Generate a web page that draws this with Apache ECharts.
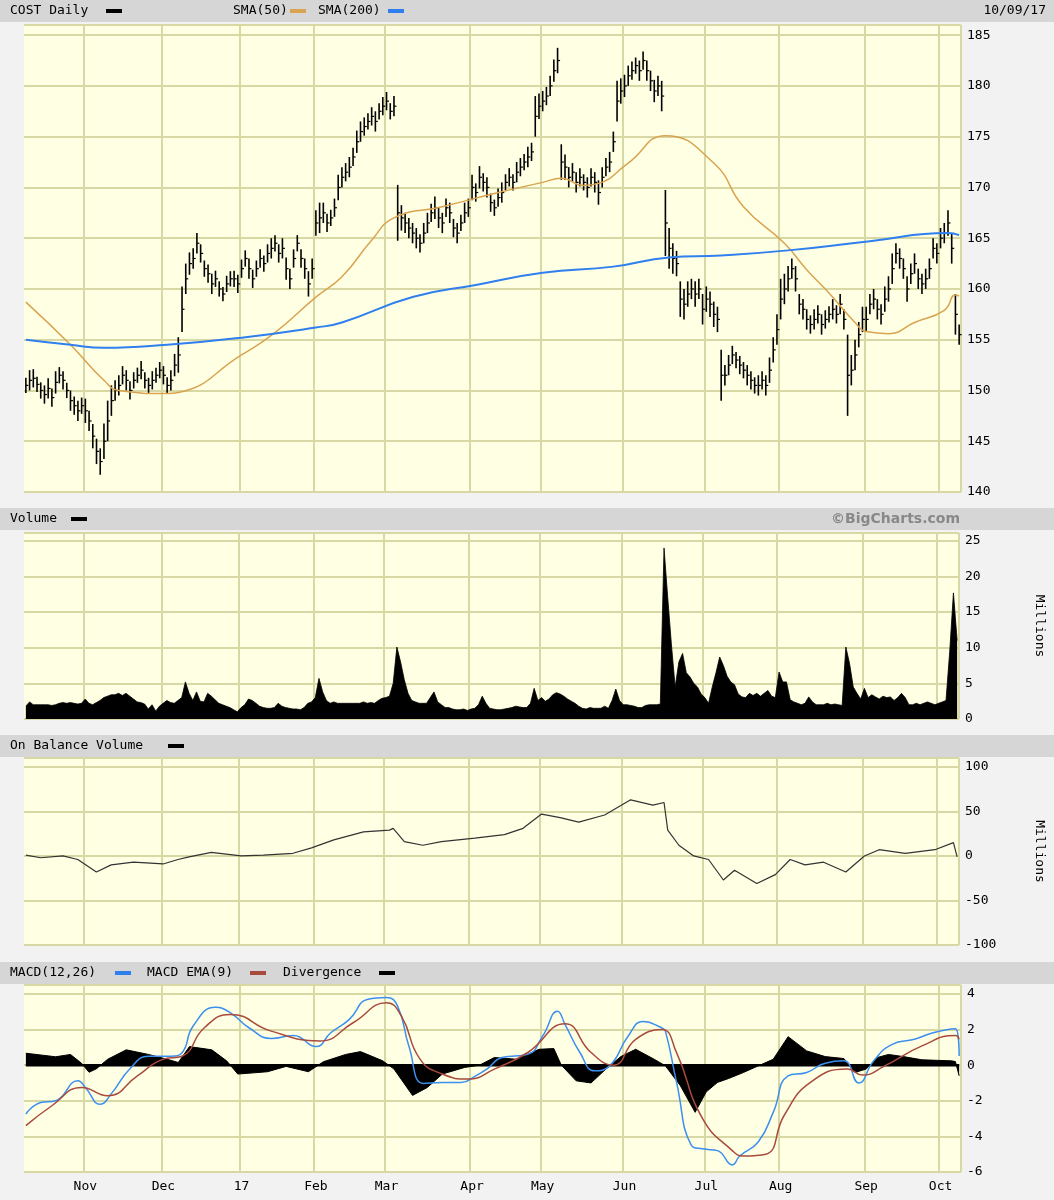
<!DOCTYPE html>
<html>
<head>
<meta charset="utf-8">
<title>COST Daily</title>
<script src="https://cdn.jsdelivr.net/npm/echarts@6/dist/echarts.min.js"></script>
</head>
<body style="margin:0;padding:0;background:#f2f2f2;">
<div id="main" style="width:1054px;height:1200px;"></div>
<script type="text/javascript">
// trading days Oct 10 2016 - Oct 9 2017
var holidays = ['2016-11-24','2016-12-26','2017-01-02','2017-01-16','2017-02-20','2017-04-14','2017-05-29','2017-07-04','2017-09-04'];
var monthNames = ['17','Feb','Mar','Apr','May','Jun','Jul','Aug','Sep','Oct','Nov','Dec'];
var days = [];
for (var t = Date.UTC(2016, 9, 10); t <= Date.UTC(2017, 9, 9); t += 86400000) {
    var d = new Date(t);
    var s = d.toISOString().slice(0, 10);
    if (d.getUTCDay() == 0 || d.getUTCDay() == 6 || holidays.indexOf(s) >= 0) continue;
    days.push(s);
}

// closes, by month
var closes = [].concat(
    [150.5,151,151.2,150.6,150,149.6,150.2,149.3,150.8,151.5,151,150,149,148.5,148,148.5],
    [148,147,145.5,144,143,145,147,149,150,150.5,151.5,151,150,151,151.5,152,151,150.5,151,151.5,152],
    [151.5,150.5,151,152.5,153.5,158,161,162.5,163,164.5,163.5,162,161.5,160.5,161,160,159.5,160.5,161,161,160.5],
    [162,163,162,161,162,163,162.5,163.5,164,164.5,163.5,164,162,161,163,164.5,163,162,160.5,162],
    [166.5,167,167.5,166.5,167,168,170,171,171.5,172,173,174.5,175.5,176,176.5,177,176.5,177.5,178],
    [178.5,177.5,178,167.5,167,166.5,166,165.5,165,164.5,165.5,166.5,167.5,168,167,166.5,168,167.5,166,165.5,166.5,167.5,168],
    [170,169.5,171,170.5,170,168.5,168,169,169.5,170.5,171,170.5,171.5,172,172.5,173,173.5,177,178],
    [178.5,179,180,181.5,182.5,172.5,172,171,171.5,170.5,171,170.5,170,171,170.5,169.5,171,172,172.5,174.5,178.5,179.5],
    [180,181,181.5,182,181.5,182.5,181.5,180.5,179.5,180,179,166.5,164,163,162.5,159,158.5,159.5,160,159.5,160,158],
    [159,158.5,157.5,157,151.5,151.5,152.5,153.5,153,152.5,152,151.5,151,150.5,150.5,151,150.5,152,154,156],
    [159,160,161,162,161,158.5,158,157,156.5,157,157.5,156.5,157,157.5,158,157.5,158.5,157,151.5,152,153.5,155.5,157],
    [157,158.5,159,158,157.5,159,160,162,163.5,163,162,160,161.5,162.5,161,160.5,161,162,164,163.5],
    [165,165.5,166.5,164,157.5,155.5]
);
// daily high-low range
var ranges = [].concat(
    [1.5,2,1.8,1.5,1.6,1.8,2,1.8,2.2,1.6,1.8,1.5,2,1.8,2,1.6],
    [2.4,2,2.4,2.5,2.6,3.5,4,3,2,2,1.8,2,1.8,1.6,1.5,1.8,1.6,1.5,1.8,1.5,1.6],
    [1.8,1.6,2,2.2,3.5,4.5,3,2.2,2,2,1.8,1.6,1.8,2,1.6,1.5,1.4,1.6,1.5,1.6,1.8],
    [1.8,1.6,2,1.8,1.6,1.8,1.6,1.8,2,1.6,1.8,2,2.2,2,1.8,1.6,1.8,2,2.5,2],
    [2.5,3,2,1.8,1.6,1.8,2.5,2,1.8,2,1.8,2.2,2,1.8,1.6,1.8,2,1.6,1.8],
    [1.8,1.6,2,5.5,2.5,2,2,2,2,1.8,2,2,1.8,2.2,2,2,1.8,2,1.8,2,1.6,2,1.8],
    [2.5,1.8,2.2,1.8,2,1.8,1.6,1.8,2,1.6,1.8,1.6,2,1.8,1.6,2,1.8,4,2.5],
    [2,1.8,2,2.2,2.5,3.5,2.5,2,1.8,2,1.8,1.6,2,1.8,2,2.4,2,1.8,2,2,4,2.5],
    [2.2,2,1.8,1.6,2,1.8,2,2,2.2,2,3,6.5,4,3,2.5,3.5,3,2.5,2,2.5,2,3],
    [2.5,2.5,2.5,2.5,5,2,2,1.8,1.6,1.8,1.6,2,1.8,1.6,2,1.8,2,2.5,2.5,3],
    [4,3,2.5,2,2.5,2,2,2,1.8,2,1.8,2,1.8,1.6,2,1.8,2,2,8,3,3,2.5,2.5],
    [2.5,2,2,2,2,2.5,2.5,3,2,2,2,2.5,2,2,2,2,2,2,2,2],
    [2,2,2.5,3,4,2]
);
var sma50 = [[0,158.7],[12,154.5],[21,151],[25,150],[38,149.7],[41,149.8],[58,153.5],[67,155.7],[78,159.2],[85,161.2],[93,164.8],[99,167],[112,168.1],[126,169.4],[139,170.5],[144,170.9],[150,170.2],[154,170.4],[162,172.4],[172,175.1],[185,172.4],[193,168.1],[204,164.5],[210,161.9],[216,159.6],[223,156.7],[226,155.8],[232,155.6],[239,156.7],[247,157.9],[250,159.4],[251,159.3]];
var sma200 = [[0,155],[12,154.5],[21,154.2],[38,154.5],[58,155.2],[78,156.2],[85,156.7],[104,159.2],[121,160.4],[139,161.6],[158,162.2],[173,163.1],[187,163.3],[205,163.8],[227,164.7],[248,165.5],[251,165.3]];
// volume, millions
var volume = [].concat(
    [1.8,2.4,2.0,2.0,2.0,2.0,2.0,1.9,2.0,2.2,2.3,2.2,2.3,2.2,2.1,2.2],
    [2.8,2.2,2.0,2.3,2.6,3.0,3.2,3.4,3.4,3.6,3.3,3.6,3.2,2.8,2.4,2.3,2.1,1.4,2.0,1.1,1.8],
    [2.2,2.6,2.3,2.2,2.6,3.0,5.2,3.6,2.6,3.8,2.5,2.4,3.6,3.2,2.7,2.2,2.0,1.8,1.6,1.3,1.0],
    [1.6,2.0,2.8,2.6,2.2,1.8,1.6,1.5,1.5,1.6,2.2,1.8,1.6,1.5,1.4,1.4,1.3,1.6,2.2,2.4],
    [3.0,5.7,3.8,2.6,2.2,2.4,2.2,2.2,2.2,2.2,2.2,2.2,2.2,2.4,2.2,2.3,2.2,2.6,2.9],
    [3.0,3.2,5.0,10.1,8.0,5.5,3.6,2.6,2.4,2.2,2.2,2.2,3.0,3.8,2.4,2.0,1.6,1.6,1.4,1.3,1.3,1.4,1.2],
    [1.4,1.5,2.0,3.2,2.2,1.5,1.4,1.3,1.3,1.4,1.5,1.6,1.8,1.7,1.6,1.6,2.2,4.3,2.6],
    [3.0,2.5,2.8,3.4,3.7,3.5,3.2,2.8,2.5,2.2,1.8,1.5,1.4,1.6,1.5,1.5,1.5,1.8,1.5,2.6,4.2,2.6],
    [2.0,2.0,1.9,1.8,1.6,1.6,1.9,2.0,2.0,2.0,2.1,24,17,10.4,4.5,8.0,9.2,6.5,5.9,5.0,4.5,3.5],
    [3.0,2.2,4.5,6.5,8.7,7.5,6.0,5.2,4.8,3.5,3.1,3.0,3.6,3.3,3.6,3.2,3.6,4.0,3.2,3.0],
    [6.6,5.2,5.2,2.7,2.4,2.2,2.0,2.2,3.1,2.4,2.0,2.0,2.0,2.2,2.0,2.1,2.0,1.9,10.1,7.8,4.5,3.6,2.8],
    [4.3,3.0,3.4,3.1,2.8,3.2,3.0,3.1,2.6,3.0,3.6,3.0,2.0,2.0,2.2,2.0,2.2,2.4,2.2,2.0],
    [2.2,2.4,2.6,9.5,17.7,11]
);
var obv = [[0,1],[4,-2],[10,0],[14,-4],[19,-18],[23,-10],[29,-7],[37,-9],[41,-4],[44,-1],[50,4],[58,0],[64,1],[72,3],[77,9],[83,18],[91,27],[98,29],[99,31],[102,16],[107,12],[112,16],[121,20],[129,24],[134,31],[139,47],[144,43],[149,38],[156,46],[163,63],[169,57],[172,60],[173,29],[176,12],[180,0],[184,-4],[188,-27],[191,-16],[197,-31],[202,-21],[206,-4],[210,-10],[215,-7],[221,-18],[226,0],[230,7],[237,3],[245,7],[250,15],[251,-1]];
var macd = [[0,-2.74],[4,-2.1],[8,-2.0],[14,-0.88],[16,-1.25],[20,-2.2],[23,-1.6],[28,-0.2],[33,0.5],[39,0.5],[42,0.7],[45,2.2],[51,3.25],[55,2.94],[60,2.1],[66,1.5],[72,1.67],[78,1.04],[82,1.82],[87,2.57],[92,3.7],[97,3.8],[100,3.3],[103,1.08],[107,-1.03],[112,-0.97],[117,-0.97],[121,-0.6],[124,-0.22],[128,0.43],[135,0.61],[139,1.64],[143,3.03],[145,2.29],[149,0.71],[153,-0.32],[157,-0.04],[162,1.64],[166,2.45],[171,2.1],[172,1.91],[175,-0.97],[179,-4.5],[182,-4.7],[186,-4.8],[190,-5.6],[192,-5.1],[197,-4.3],[201,-2.65],[205,-0.6],[210,-0.41],[215,0.11],[220,0.24],[224,-1.0],[228,0.24],[233,1.17],[239,1.45],[244,1.82],[250,2.05],[251,0.52]];
var signal = [[0,-3.4],[7,-2.28],[15,-1.25],[22,-1.72],[30,-0.6],[37,0.34],[42,0.5],[48,2.1],[55,2.85],[66,1.91],[79,1.36],[88,2.38],[97,3.5],[101,2.75],[106,0.34],[112,-0.5],[119,-0.78],[126,-0.22],[135,0.71],[145,2.32],[152,0.71],[158,0],[164,1.45],[171,2.0],[175,0.7],[182,-3.0],[190,-4.8],[193,-5.1],[199,-5.0],[204,-2.8],[211,-0.97],[221,-0.22],[225,-0.56],[231,-0.04],[241,1.08],[250,1.67],[251,1.45]];
var divergence = [[0,0.67],[8,0.47],[12,0.6],[15,0.1],[17,-0.4],[19,-0.2],[22,0.33],[27,0.86],[33,0.6],[38,0.33],[41,0.15],[44,1.04],[50,0.86],[54,0.24],[57,-0.5],[65,-0.37],[70,-0.07],[76,-0.37],[80,0.19],[86,0.6],[90,0.76],[96,0.24],[99,-0.22],[104,-1.7],[108,-1.25],[112,-0.5],[118,-0.13],[122,0],[126,0.43],[132,0.33],[138,0.89],[142,0.93],[144,0],[148,-0.88],[152,-1.0],[156,-0.22],[160,0.48],[164,0.89],[169,0.33],[172,-0.04],[176,-1.15],[180,-2.65],[183,-1.5],[186,-0.97],[189,-0.75],[193,-0.41],[197,-0.04],[201,0.33],[205,1.6],[210,0.8],[215,0.48],[220,0.37],[223,-0.41],[226,-0.22],[229,0.43],[232,0.6],[236,0.48],[241,0.3],[249,0.24],[250,0.2],[251,-0.6]];

var bars = [];
for (var i = 0; i < closes.length; i++) {
    bars.push([i, closes[i] - ranges[i] / 2, closes[i] + ranges[i] / 2, closes[i]]);
}
function isMonthStart(idx) {
    return idx > 0 && days[idx].slice(5, 7) != days[idx - 1].slice(5, 7);
}

var gridBg = '#ffffe4';
var gridLine = '#d8d8a4';
var mono = 'DejaVu Sans Mono';
var grids = [
    {top: 25, height: 467},
    {top: 533, height: 186},
    {top: 758, height: 187},
    {top: 985, height: 187}
];
var xAxes = [], yAxes = [];
for (var g = 0; g < 4; g++) {
    grids[g].left = 24; grids[g].right = 93;
    grids[g].show = true; grids[g].backgroundColor = gridBg; grids[g].borderWidth = 0;
    xAxes.push({
        type: 'category', gridIndex: g, data: days, boundaryGap: true,
        axisLine: {show: false}, axisTick: {show: false},
        splitLine: {show: true, interval: function (idx) { return isMonthStart(idx); }, lineStyle: {color: gridLine, width: 2}},
        axisLabel: {
            show: g == 3, interval: function (idx) { return isMonthStart(idx); },
            formatter: function (v) { return monthNames[parseInt(v.slice(5, 7), 10) - 1]; },
            color: '#000', fontFamily: mono, fontSize: 13, margin: 8
        }
    });
}
function yAx(g, min, max, interval, name) {
    return {
        type: 'value', gridIndex: g, position: 'right', min: min, max: max, interval: interval,
        axisLine: {show: false}, axisTick: {show: false},
        splitLine: {lineStyle: {color: gridLine, width: 2}},
        axisLabel: {color: '#000', fontFamily: mono, fontSize: 13, margin: 6, showMaxLabel: false},
        name: name || '', nameLocation: 'middle', nameRotate: -90, nameGap: 74,
        nameTextStyle: {fontFamily: mono, fontSize: 13, color: '#000'}
    };
}
yAxes.push(yAx(0, 140, 186, 5));
yAxes.push(yAx(1, 0, 26.1, 5, 'Millions'));
yAxes.push(yAx(2, -100, 110, 50, 'Millions'));
yAxes.push(yAx(3, -6, 4.5, 2));

function header(y, items, right) {
    var els = [{type: 'rect', shape: {x: 0, y: y, width: 1054, height: 22}, style: {fill: '#d6d6d6'}}];
    items.forEach(function (it) {
        els.push({type: 'text', x: it[0], y: y + 11, style: {text: it[1], font: '13px "DejaVu Sans Mono"', fill: '#000', verticalAlign: 'middle'}});
        els.push({type: 'rect', shape: {x: it[2], y: y + 9, width: 16, height: 4}, style: {fill: it[3]}});
    });
    if (right) els.push({type: 'text', x: right[0], y: y + 11, style: {text: right[1], font: right[2], fill: right[3], align: 'right', verticalAlign: 'middle'}});
    return els;
}
var graphics = [].concat(
    header(0, [[10, 'COST Daily', 106, '#000'], [233, 'SMA(50)', 290, '#d9a350'], [318, 'SMA(200)', 388, '#2f7fef']], [1046, '10/09/17', '13px "DejaVu Sans Mono"', '#000']),
    header(508, [[10, 'Volume', 71, '#000']], [960, '©BigCharts.com', 'bold 14px "DejaVu Sans"', '#888']),
    header(735, [[10, 'On Balance Volume', 168, '#000']]),
    header(962, [[10, 'MACD(12,26)', 115, '#2f7fef'], [147, 'MACD EMA(9)', 250, '#a84a3c'], [283, 'Divergence', 379, '#000']])
);

var chart = echarts.init(document.getElementById('main'));
chart.setOption({
    backgroundColor: '#f2f2f2',
    animation: false,
    grid: grids,
    xAxis: xAxes,
    yAxis: yAxes,
    graphic: graphics,
    series: [
        {
            type: 'custom', xAxisIndex: 0, yAxisIndex: 0, data: bars,
            renderItem: function (params, api) {
                var lo = api.coord([api.value(0), api.value(1)]);
                var hi = api.coord([api.value(0), api.value(2)]);
                var cl = api.coord([api.value(0), api.value(3)]);
                return {type: 'group', children: [
                    {type: 'line', shape: {x1: lo[0], y1: lo[1], x2: hi[0], y2: hi[1]}, style: {stroke: '#000', lineWidth: 1.6}},
                    {type: 'line', shape: {x1: cl[0], y1: cl[1], x2: cl[0] + 2.5, y2: cl[1]}, style: {stroke: '#000', lineWidth: 1.2}}
                ]};
            }
        },
        {type: 'line', xAxisIndex: 0, yAxisIndex: 0, data: sma50, smooth: true, symbol: 'none', lineStyle: {color: '#d9a350', width: 1.5}},
        {type: 'line', xAxisIndex: 0, yAxisIndex: 0, data: sma200, smooth: true, symbol: 'none', lineStyle: {color: '#2f7fef', width: 2}},
        {type: 'line', xAxisIndex: 1, yAxisIndex: 1, data: volume, symbol: 'none', lineStyle: {color: '#000', width: 0.8}, areaStyle: {color: '#000', opacity: 1}},
        {type: 'line', xAxisIndex: 2, yAxisIndex: 2, data: obv, symbol: 'none', lineStyle: {color: '#333', width: 1.2}},
        {type: 'line', xAxisIndex: 3, yAxisIndex: 3, data: divergence, symbol: 'none', lineStyle: {color: '#000', width: 1}, areaStyle: {color: '#000', opacity: 1, origin: 0}},
        {type: 'line', xAxisIndex: 3, yAxisIndex: 3, data: [[0, 0], [251, 0]], symbol: 'none', lineStyle: {color: '#000', width: 2.5}},
        {type: 'line', xAxisIndex: 3, yAxisIndex: 3, data: macd, smooth: true, symbol: 'none', lineStyle: {color: '#3b8fef', width: 1.5}},
        {type: 'line', xAxisIndex: 3, yAxisIndex: 3, data: signal, smooth: true, symbol: 'none', lineStyle: {color: '#a84a3c', width: 1.5}}
    ]
});
</script>
</body>
</html>
